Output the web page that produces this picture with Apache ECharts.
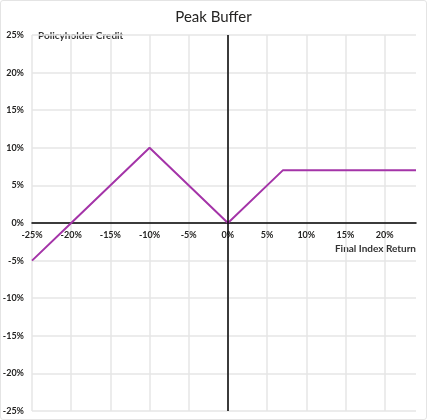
<!DOCTYPE html>
<html>
<head>
<meta charset="utf-8">
<script src="https://cdn.jsdelivr.net/npm/echarts@6/dist/echarts.min.js"></script>
<style>
  html, body { margin: 0; padding: 0; background: #fff; }
  #chart {
    width: 425px;
    height: 418px;
    border: 1px solid #e4e4e4;
    border-radius: 3px;
  }
</style>
</head>
<body>
<div id="chart"></div>
<script>
// payoff points: final index return (%) vs policyholder credit (%)
const indexReturn = [-25, -20, -10, 0, 7, 24];
const credit = [-5, 0, 10, 0, 7, 7];

const textColor = '#252423';
const gridColor = '#e6e6e6';
const lineColor = '#a434a8';

const gridTop = 34;
const gridBottom = 8;
const chartHeight = 418;
// move the x axis (line + labels) up to the zero line
const zeroOffset = -(chartHeight - gridTop - gridBottom) / 2;

const chart = echarts.init(document.getElementById('chart'));

chart.setOption({
  animation: false,
  title: {
    text: 'Peak Buffer',
    left: 'center',
    top: 4,
    textStyle: { fontFamily: 'Lato', fontSize: 15, fontWeight: 'normal', color: textColor },
  },
  grid: { left: 31, right: 10, top: gridTop, bottom: gridBottom, outerBoundsMode: 'none', containLabel: false },
  xAxis: {
    type: 'value',
    min: -25,
    max: 24,
    interval: 5,
    offset: zeroOffset,
    axisLine: { onZero: false, lineStyle: { color: '#000', width: 1.5 } },
    axisTick: { show: false },
    axisLabel: {
      showMaxLabel: false,
      margin: 8,
      fontFamily: 'Lato',
      fontSize: 9,
      fontWeight: 'bold',
      color: textColor,
      formatter: v => v + '%',
    },
    splitLine: { show: true, showMaxLine: false, lineStyle: { color: gridColor, width: 1.5 } },
  },
  yAxis: {
    type: 'value',
    min: -25,
    max: 25,
    interval: 5,
    axisLine: { show: false },
    axisTick: { show: false },
    axisLabel: {
      margin: 8,
      fontFamily: 'Lato',
      fontSize: 9,
      fontWeight: 'bold',
      color: textColor,
      formatter: v => v + '%',
    },
    splitLine: { show: true, lineStyle: { color: gridColor, width: 1.5 } },
  },
  graphic: [
    {
      type: 'text',
      left: 37,
      top: 30,
      style: { text: 'Policyholder Credit', fontFamily: 'Lato', fontSize: 10, fontWeight: 'bold', fill: '#333' },
    },
    {
      type: 'text',
      right: 10,
      top: 243,
      style: { text: 'Final Index Return', fontFamily: 'Lato', fontSize: 10, fontWeight: 'bold', fill: '#333' },
    },
  ],
  series: [
    {
      type: 'line',
      data: indexReturn.map((x, i) => [x, credit[i]]),
      symbol: 'none',
      lineStyle: { color: lineColor, width: 2 },
      markLine: {
        silent: true,
        symbol: 'none',
        label: { show: false },
        lineStyle: { color: '#000', width: 1.5, type: 'solid' },
        data: [{ xAxis: 0 }],
      },
      z: 3,
    },
  ],
});
</script>
</body>
</html>
